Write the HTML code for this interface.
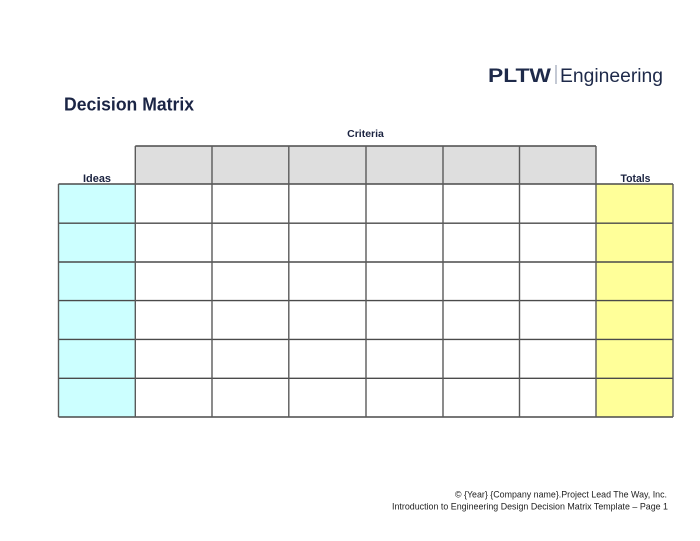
<!DOCTYPE html>
<html>
<head>
<meta charset="utf-8">
<style>
  html,body{margin:0;padding:0;background:#fff;}
  body{width:700px;height:541px;overflow:hidden;}
  svg{display:block;}
  text{font-family:"Liberation Sans",Arial,sans-serif;}
</style>
</head>
<body>
<svg width="700" height="541" viewBox="0 0 700 541" xmlns="http://www.w3.org/2000/svg">
  <rect width="700" height="541" fill="#ffffff"/>

  <!-- Logo -->
  <text x="488" y="82" font-size="19" font-weight="bold" fill="#1e2a4a" textLength="63" lengthAdjust="spacingAndGlyphs">PLTW</text>
  <rect x="555.5" y="65" width="1" height="19" fill="#8a93a8"/>
  <text x="560" y="82" font-size="19" fill="#1e2a4a" textLength="103" lengthAdjust="spacingAndGlyphs">Engineering</text>

  <!-- Title -->
  <text x="64" y="110.5" font-size="18" font-weight="bold" fill="#1b2545" textLength="130" lengthAdjust="spacingAndGlyphs">Decision Matrix</text>

  <!-- Labels -->
  <text x="365.5" y="137" font-size="10.5" font-weight="bold" fill="#1b2340" text-anchor="middle">Criteria</text>
  <text x="83" y="182" font-size="11" font-weight="bold" fill="#1b2340" textLength="28" lengthAdjust="spacingAndGlyphs">Ideas</text>
  <text x="620.5" y="182" font-size="11" font-weight="bold" fill="#1b2340" textLength="30" lengthAdjust="spacingAndGlyphs">Totals</text>

  <!-- Fills -->
  <rect x="135.3" y="146" width="460.7" height="38" fill="#dedede"/>
  <rect x="58.5" y="184" width="76.8" height="233" fill="#ccffff"/>
  <rect x="596" y="184" width="77" height="233" fill="#ffff99"/>

  <!-- Grid lines -->
  <g stroke="#4a4a4a" stroke-width="1.4" fill="none">
    <!-- header box -->
    <line x1="135.3" y1="146" x2="596" y2="146"/>
    <!-- horizontal body lines -->
    <line x1="58.5" y1="184" x2="673" y2="184"/>
    <line x1="58.5" y1="223.2" x2="673" y2="223.2"/>
    <line x1="58.5" y1="262" x2="673" y2="262"/>
    <line x1="58.5" y1="300.6" x2="673" y2="300.6"/>
    <line x1="58.5" y1="339.4" x2="673" y2="339.4"/>
    <line x1="58.5" y1="378.3" x2="673" y2="378.3"/>
    <line x1="58.5" y1="417" x2="673" y2="417"/>
  </g>
  <g stroke="#5a5a5a" stroke-width="1.4" fill="none">
    <line x1="58.5" y1="184" x2="58.5" y2="417"/>
    <line x1="135.3" y1="146" x2="135.3" y2="417"/>
    <line x1="212" y1="146" x2="212" y2="417"/>
    <line x1="288.8" y1="146" x2="288.8" y2="417"/>
    <line x1="366" y1="146" x2="366" y2="417"/>
    <line x1="443" y1="146" x2="443" y2="417"/>
    <line x1="519.5" y1="146" x2="519.5" y2="417"/>
    <line x1="596" y1="146" x2="596" y2="417"/>
    <line x1="673" y1="184" x2="673" y2="417"/>
  </g>

  <!-- Footer -->
  <text x="667" y="497.5" font-size="9" fill="#222" text-anchor="end" textLength="212" lengthAdjust="spacingAndGlyphs">© {Year} {Company  name}.Project Lead The Way, Inc.</text>
  <text x="668" y="509.5" font-size="9" fill="#222" text-anchor="end" textLength="276" lengthAdjust="spacingAndGlyphs">Introduction to Engineering  Design Decision Matrix Template  – Page 1</text>
</svg>
</body>
</html>
